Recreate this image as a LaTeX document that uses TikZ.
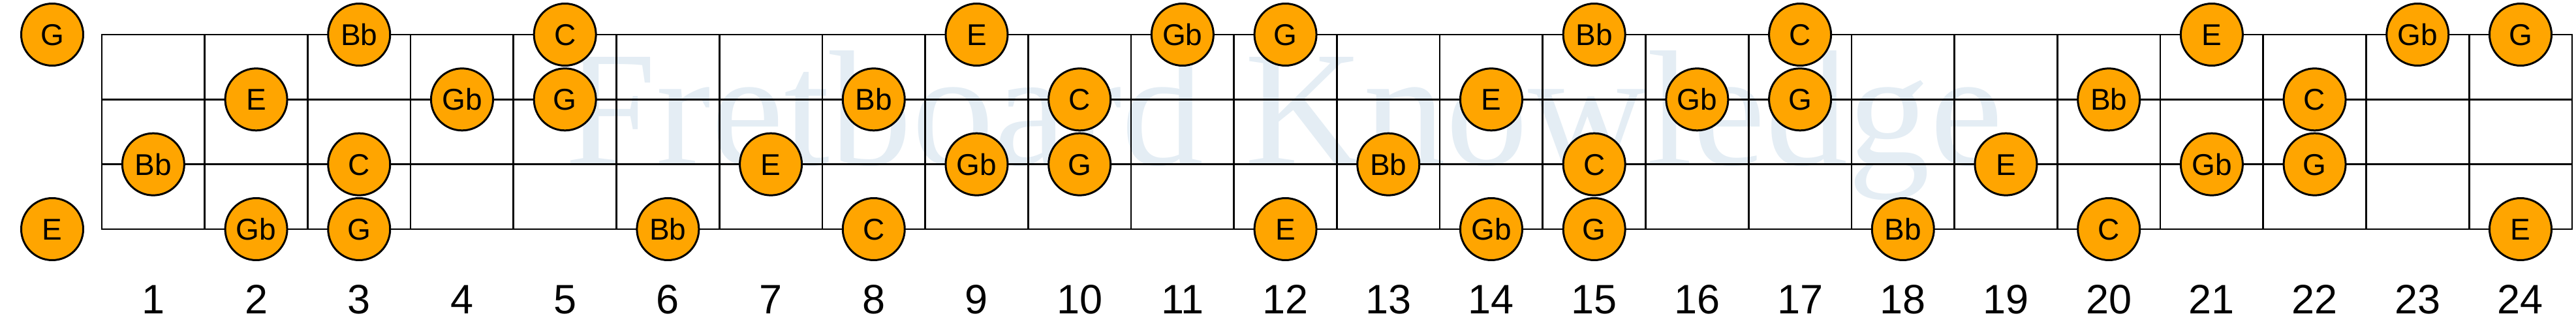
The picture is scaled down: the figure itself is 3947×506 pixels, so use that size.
\documentclass[tikz,border=0pt]{standalone}
\usepackage{fontspec}
\setmainfont{Liberation Sans}
\newfontfamily\wmfont{Liberation Serif}
\definecolor{wmcol}{RGB}{228,237,244}
\definecolor{dotcol}{RGB}{255,165,0}
\begin{document}
\begin{tikzpicture}[x=1pt,y=-1pt,
  note/.style={circle, draw=black, line width=3pt, fill=dotcol, minimum size=95pt, inner sep=0pt,
    font=\fontsize{46}{46}\selectfont, text height=33pt, text depth=0pt},
  fretnum/.style={font=\fontsize{63}{63}\selectfont, anchor=base, inner sep=0pt},
  gridline/.style={line width=2.7pt, line cap=rect}]
\useasboundingbox (0,0) rectangle (3947,506);
\node[anchor=base west, text=wmcol, font=\wmfont\fontsize{252}{252}\selectfont, inner sep=0pt] (wm) at (865,252) {Fretboard Knowledge};
\foreach \y in {53,152.3,251.7,351} \draw[gridline] (156,\y) -- (3941,\y);
\foreach \k in {0,...,24} \draw[gridline] ({156+\k*157.7},53) -- ({156+\k*157.7},351);
\foreach \k in {1,...,24} \node[fretnum] (num\k) at ({156+(\k-0.5)*157.7},480) {\k};
\foreach \s/\f/\n in {1/0/G,1/3/Bb,1/5/C,1/9/E,1/11/Gb,1/12/G,1/15/Bb,1/17/C,1/21/E,1/23/Gb,1/24/G,
  2/2/E,2/4/Gb,2/5/G,2/8/Bb,2/10/C,2/14/E,2/16/Gb,2/17/G,2/20/Bb,2/22/C,
  3/1/Bb,3/3/C,3/7/E,3/9/Gb,3/10/G,3/13/Bb,3/15/C,3/19/E,3/21/Gb,3/22/G,
  4/0/E,4/2/Gb,4/3/G,4/6/Bb,4/8/C,4/12/E,4/14/Gb,4/15/G,4/18/Bb,4/20/C,4/24/E}{
  \pgfmathsetmacro\xx{\f==0 ? 80 : 156+(\f-0.5)*157.7}
  \pgfmathsetmacro\yy{53+(\s-1)*99.33}
  \node[note] (n\s-\f) at (\xx,\yy) {\n};
}
\end{tikzpicture}
\end{document}
